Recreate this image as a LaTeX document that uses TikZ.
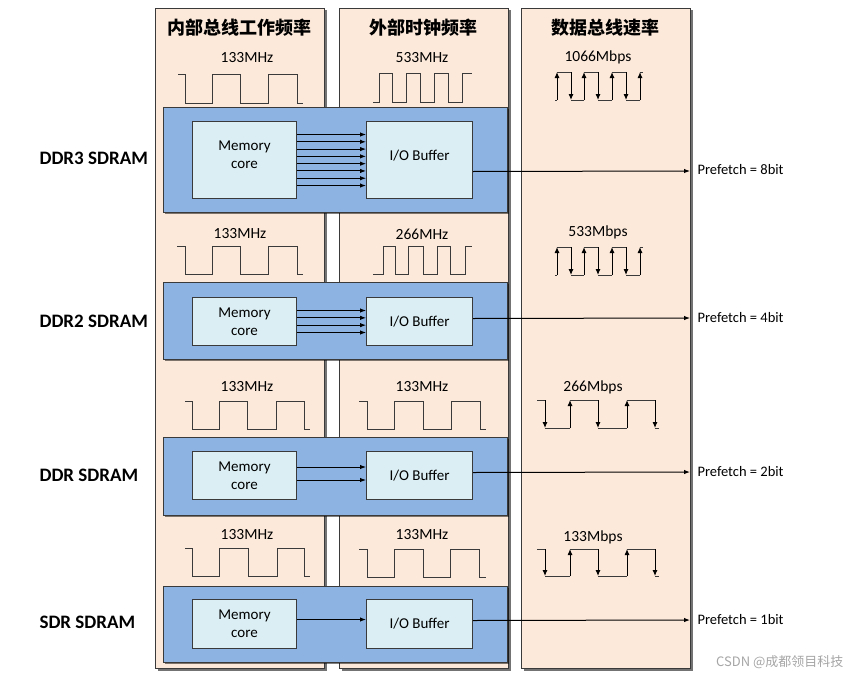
\documentclass[tikz,border=0pt]{standalone}
\usepackage{fontspec}
\setmainfont{Carlito}
\newfontfamily\cjk{Noto Sans CJK SC}
\usetikzlibrary{arrows.meta,shadows}
\definecolor{peach}{HTML}{FDE9DA}
\definecolor{bluebox}{HTML}{8DB3E2}
\definecolor{corefill}{HTML}{DAEEF3}
\definecolor{edge}{HTML}{3A3A3A}
\newcommand\wavefast[2]{%
  \draw[wave] (555,#2) -- (557,#2);
  \foreach \a/\b in {557/571,584/598,612/626}{\draw[wave,warr] (\a,#2) -- (\a,#1); \draw[wave] (\a,#1) -- (\b,#1); \draw[wave,warr] (\b,#1) -- (\b,#2);}
  \foreach \a/\b in {571/584,598/612,626/640}{\draw[wave] (\a,#2) -- (\b,#2);}
  \draw[wave,warr] (640,#2) -- (640,#1); \draw[wave] (640,#1) -- (643,#1);
}
\newcommand\waveslow[2]{%
  \draw[wave] (537,#1) -- (545,#1);
  \foreach \a/\b in {545/570,598/627}{\draw[wave,warr] (\a,#1) -- (\a,#2); \draw[wave] (\a,#2) -- (\b,#2); \draw[wave,warr] (\b,#2) -- (\b,#1);}
  \foreach \a/\b in {570/598,627/655}{\draw[wave] (\a,#1) -- (\b,#1);}
  \draw[wave,warr] (655,#1) -- (655,#2); \draw[wave] (655,#2) -- (659,#2);
}
\begin{document}
\begin{tikzpicture}[x=1pt,y=-1pt,
  colbox/.style={draw=edge, fill=peach, line width=1pt, anchor=north west, inner sep=0pt, minimum width=169pt, minimum height=660pt,
     drop shadow={shadow xshift=2pt, shadow yshift=-2pt, opacity=0.55, fill=black}},
  blk/.style={draw=edge, fill=bluebox, line width=1pt, anchor=north west, inner sep=0pt, minimum width=344pt,
     drop shadow={shadow xshift=1.5pt, shadow yshift=-1.5pt, opacity=0.5, fill=black}},
  corebox/.style={draw=edge, fill=corefill, line width=1pt, anchor=north west, inner sep=0pt, align=center, font=\fontsize{15}{18}\selectfont},
  head/.style={font=\cjk\bfseries\fontsize{18}{20}\selectfont},
  lbl/.style={font=\fontsize{15.5}{17}\selectfont},
  rowlbl/.style={anchor=west, font=\bfseries\fontsize{19}{21}\selectfont},
  pf/.style={anchor=west, font=\fontsize{14.5}{16}\selectfont},
  arr/.style={-{Latex[length=6pt,width=4.5pt]}, line width=1pt, black},
  wave/.style={line width=1pt, draw=edge},
  warr/.style={-{Latex[length=6pt,width=5pt]}, black}
]
\useasboundingbox (0,0) rectangle (850,677);
\fill[white] (0,0) rectangle (850,677);

% columns
\node[colbox] (col1) at (155,8) {};
\node[colbox] (col2) at (339,8) {};
\node[colbox] (col3) at (521,8) {};
\node[head] (h1) at (239,28) {内部总线工作频率};
\node[head] (h2) at (423,28) {外部时钟频率};
\node[head] (h3) at (605,28) {数据总线速率};

% ---------- DDR3 ----------
\node[lbl] (f31) at (247,58) {133MHz};
\node[lbl] (f32) at (422,58) {533MHz};
\node[lbl] (f33) at (598,57) {1066Mbps};
\draw[wave] (178,74) -- (185,74) -- (185,103) -- (212,103) -- (212,74) -- (240,74) -- (240,103) -- (268,103) -- (268,74) -- (297,74) -- (297,103) -- (303,103);
\draw[wave] (373,102) -- (379,102) -- (379,73) -- (392,73) -- (392,102) -- (406,102) -- (406,73) -- (420,73) -- (420,102) -- (434,102) -- (434,73) -- (448,73) -- (448,102) -- (462,102) -- (462,73) -- (472,73);
\wavefast{72}{100}
\node[blk, minimum height=105pt] (b3) at (163,107) {};
\node[corebox, minimum width=104pt, minimum height=77pt, text depth=10pt] (m3) at (192,121) {Memory\\core};
\node[corebox, minimum width=106pt, minimum height=77pt, text depth=10pt] (io3) at (366,121) {I/O Buffer};
\foreach \k in {0,...,7}{
  \draw[arr] ([yshift={25.5pt-\k*7.29pt}]m3.east) -- ([yshift={25.5pt-\k*7.29pt}]io3.west);
}
\coordinate (e3) at (690,171);
\draw[arr] ([yshift=-11.5pt]io3.east) -- (e3);
\node[pf] (p3) at (694,170) {Prefetch = 8bit};
\node[rowlbl] (r3) at (36,158) {DDR3 SDRAM};

% ---------- DDR2 ----------
\node[lbl] (f21) at (240,234) {133MHz};
\node[lbl] (f22) at (422,234) {266MHz};
\node[lbl] (f23) at (598,232) {533Mbps};
\draw[wave] (177,246) -- (185,246) -- (185,274) -- (212,274) -- (212,246) -- (240,246) -- (240,274) -- (268,274) -- (268,246) -- (297,246) -- (297,274) -- (303,274);
\draw[wave] (373,274) -- (383,274) -- (383,246) -- (395,246) -- (395,274) -- (408,274) -- (408,246) -- (423,246) -- (423,274) -- (437,274) -- (437,246) -- (450,246) -- (450,274) -- (465,274) -- (465,246) -- (472,246);
\wavefast{247}{275}
\node[blk, minimum height=77pt] (b2) at (163,282) {};
\node[corebox, minimum width=104pt, minimum height=48pt] (m2) at (192,297) {Memory\\core};
\node[corebox, minimum width=106pt, minimum height=48pt] (io2) at (366,297) {I/O Buffer};
\foreach \k in {0,...,3}{
  \draw[arr] ([yshift={11pt-\k*7.33pt}]m2.east) -- ([yshift={11pt-\k*7.33pt}]io2.west);
}
\coordinate (e2) at (690,318);
\draw[arr] ([yshift=3pt]io2.east) -- (e2);
\node[pf] (p2) at (694,318) {Prefetch = 4bit};
\node[rowlbl] (r2) at (36,321) {DDR2 SDRAM};

% ---------- DDR ----------
\node[lbl] (f11) at (247,387) {133MHz};
\node[lbl] (f12) at (422,387) {133MHz};
\node[lbl] (f13) at (593,387) {266Mbps};
\draw[wave] (185,401) -- (192,401) -- (192,429) -- (219,429) -- (219,401) -- (247,401) -- (247,429) -- (276,429) -- (276,401) -- (304,401) -- (304,429) -- (310,429);
\draw[wave] (359,401) -- (367,401) -- (367,429) -- (394,429) -- (394,401) -- (423,401) -- (423,429) -- (451,429) -- (451,401) -- (480,401) -- (480,429) -- (486,429);
\waveslow{400}{428}
\node[blk, minimum height=78pt] (b1) at (163,437) {};
\node[corebox, minimum width=104pt, minimum height=48pt] (m1) at (192,451) {Memory\\core};
\node[corebox, minimum width=106pt, minimum height=48pt] (io1) at (366,451) {I/O Buffer};
\draw[arr] ([yshift=8.5pt]m1.east) -- ([yshift=8.5pt]io1.west);
\draw[arr] ([yshift=-4.5pt]m1.east) -- ([yshift=-4.5pt]io1.west);
\coordinate (e1) at (690,472);
\draw[arr] ([yshift=3pt]io1.east) -- (e1);
\node[pf] (p1) at (694,472) {Prefetch = 2bit};
\node[rowlbl] (r1) at (36,475) {DDR SDRAM};

% ---------- SDR ----------
\node[lbl] (f01) at (247,535) {133MHz};
\node[lbl] (f02) at (422,535) {133MHz};
\node[lbl] (f03) at (593,537) {133Mbps};
\draw[wave] (185,548) -- (192,548) -- (192,576) -- (219,576) -- (219,548) -- (248,548) -- (248,576) -- (277,576) -- (277,548) -- (304,548) -- (304,576) -- (310,576);
\draw[wave] (359,549) -- (367,549) -- (367,577) -- (394,577) -- (394,549) -- (423,549) -- (423,577) -- (450,577) -- (450,549) -- (479,549) -- (479,577) -- (486,577);
\waveslow{549}{576}
\node[blk, minimum height=76pt] (b0) at (163,586) {};
\node[corebox, minimum width=104pt, minimum height=49pt] (m0) at (192,599) {Memory\\core};
\node[corebox, minimum width=106pt, minimum height=49pt] (io0) at (366,599) {I/O Buffer};
\draw[arr] ([yshift=4.5pt]m0.east) -- ([yshift=4.5pt]io0.west);
\coordinate (e0) at (690,620);
\draw[arr] ([yshift=3.5pt]io0.east) -- (e0);
\node[pf] (p0) at (694,620) {Prefetch = 1bit};
\node[rowlbl] (r0) at (36,622) {SDR SDRAM};

\node[anchor=east, text=black!35, font=\cjk\fontsize{13}{15}\selectfont] (wm) at (847,662) {CSDN @成都领目科技};
\end{tikzpicture}
\end{document}
